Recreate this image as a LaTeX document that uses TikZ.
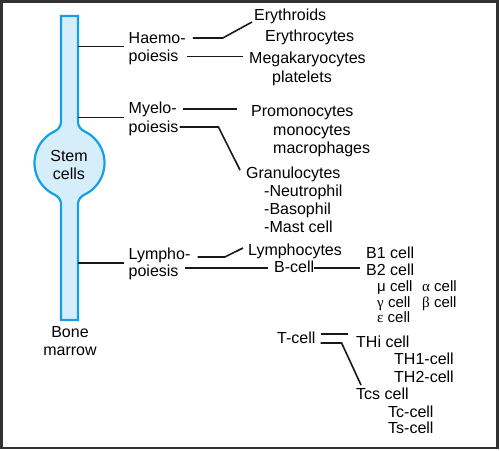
\documentclass[tikz,border=0pt]{standalone}
\usepackage{fontspec}
\setmainfont{Liberation Sans}
\newfontfamily\grk{Liberation Serif}
\usetikzlibrary{calc}
\definecolor{tubeline}{RGB}{20,160,228}
\definecolor{tubefill}{RGB}{214,238,250}
\definecolor{framegray}{RGB}{50,50,50}
\begin{document}
\begin{tikzpicture}[x=1pt,y=-1pt,
  lbl/.style={font=\fontsize{16}{18}\selectfont, inner sep=0pt, anchor=west, text height=11.5pt, text depth=0pt},
  glbl/.style={font=\fontsize{15}{17}\selectfont, inner sep=0pt, anchor=west, text height=10.8pt, text depth=0pt},
  ctr/.style={font=\fontsize{16}{18}\selectfont, inner sep=0pt, align=center},
  conn/.style={line width=1.6pt, black!90},
  tube/.style={draw=tubeline, fill=tubefill, line width=2.2pt}
]
\useasboundingbox (0,0) rectangle (500,450);
\draw[framegray, line width=2.5pt] (1.5,1.5) rectangle (497.5,448);

% bone / tube with stem-cell bulb
\draw[tube] (61,16) -- (61,122)
  .. controls (61,126) and (58.3,129.6) .. (54.7,131.3)
  arc[start angle=245, end angle=115, radius=35]
  .. controls (58.3,196.4) and (61,200) .. (61,204)
  -- (61,320) -- (78,320) -- (78,204)
  .. controls (78,200) and (80.7,196.4) .. (84.3,194.7)
  arc[start angle=65, end angle=-65, radius=35]
  .. controls (80.7,129.6) and (78,126) .. (78,122)
  -- (78,16) -- cycle;

\node[ctr] (stem) at (69,165) {Stem\\cells};
\node[ctr] (bone) at (70,341) {Bone\\marrow};

% first column
\node[lbl] (haemoA) at (128.5,38) {Haemo-};
\node[lbl] (haemoB) at (128.5,56) {poiesis};
\node[lbl] (myeloA) at (128.5,108) {Myelo-};
\node[lbl] (myeloB) at (128.5,127) {poiesis};
\node[lbl] (lymphoA) at (128.5,254) {Lympho-};
\node[lbl] (lymphoB) at (128.5,271) {poiesis};

% products
\node[lbl] (ery) at (254,15) {Erythroids};
\node[lbl] (eryc) at (265,36) {Erythrocytes};
\node[lbl] (mega) at (249,58) {Megakaryocytes};
\node[lbl] (plat) at (272,77) {platelets};
\node[lbl] (promo) at (251,111) {Promonocytes};
\node[lbl] (mono) at (273,130) {monocytes};
\node[lbl] (macro) at (273,148) {macrophages};
\node[lbl] (gran) at (246,173) {Granulocytes};
\node[lbl] (neut) at (264,191) {-Neutrophil};
\node[lbl] (baso) at (264,209) {-Basophil};
\node[lbl] (mast) at (264,227) {-Mast cell};
\node[lbl] (lymphoc) at (248,250) {Lymphocytes};
\node[lbl] (bcell) at (274,267) {B-cell};
\node[lbl] (b1) at (366,253) {B1 cell};
\node[lbl] (b2) at (366,270) {B2 cell};
\node[glbl] (mu) at (377,286.5) {μ cell};
\node[glbl] (alpha) at (422,286) {{\grk α} cell};
\node[glbl] (gamma) at (377,302) {{\grk γ} cell};
\node[glbl] (beta) at (422,302) {{\grk β} cell};
\node[glbl] (eps) at (377,317.5) {{\grk ε} cell};
\node[lbl] (tcell) at (277,338) {T-cell};
\node[lbl] (thi) at (356,342) {THi cell};
\node[lbl] (th1) at (394,359) {TH1-cell};
\node[lbl] (th2) at (394,377) {TH2-cell};
\node[lbl] (tcs) at (356,394) {Tcs cell};
\node[lbl] (tc) at (388,412) {Tc-cell};
\node[lbl] (ts) at (388,428) {Ts-cell};

% tube connectors
\coordinate (tH) at (78,46.5);
\coordinate (tM) at (78,117.5);
\coordinate (tL) at (78,263);
\draw[conn] (tH) -- ($(tH -| haemoA.west)+(-5,0)$);
\draw[conn] (tM) -- ($(tM -| myeloA.west)+(-5,0)$);
\draw[conn] (tL) -- ($(tL -| lymphoA.west)+(-5,0)$);

% branch connectors
\draw[conn] ($(haemoA.east)+(7,0)$) -- ($(haemoA.east)+(37,0)$) -- ($(ery.west)+(-2,7)$);
\draw[conn] ($(haemoB.east)+(8,0.5)$) -- ($(haemoB.east -| mega.west)+(-6,0.5)$);
\draw[conn] ($(myeloA.east)+(6,1)$) -- ($(myeloA.east -| promo.west)+(-14,1)$);
\draw[conn] ($(myeloB.east)+(1,0)$) -- ($(myeloB.east)+(39.7,0)$) -- ($(gran.west)+(-6,-3)$);
\draw[conn] ($(lymphoA.east)+(7,3)$) -- ($(lymphoA.east)+(34.3,3)$) -- ($(lymphoc.west)+(-5,-2)$);
\draw[conn] ($(lymphoB.east)+(6,-3)$) -- ($(lymphoB.east -| bcell.west)+(-6,-3)$);
\draw[conn] ($(bcell.east)+(0,1)$) -- ($(bcell.east -| b2.west)+(-6,1)$);
\draw[conn] ($(tcell.east)+(5,-4)$) -- ($(tcell.east -| thi.west)+(-8,-4)$);
\draw[conn] ($(tcell.east)+(5,5)$) -- ($(tcell.east)+(26,5)$) -- ($(tcs.west)+(5,-9)$);
\end{tikzpicture}
\end{document}
